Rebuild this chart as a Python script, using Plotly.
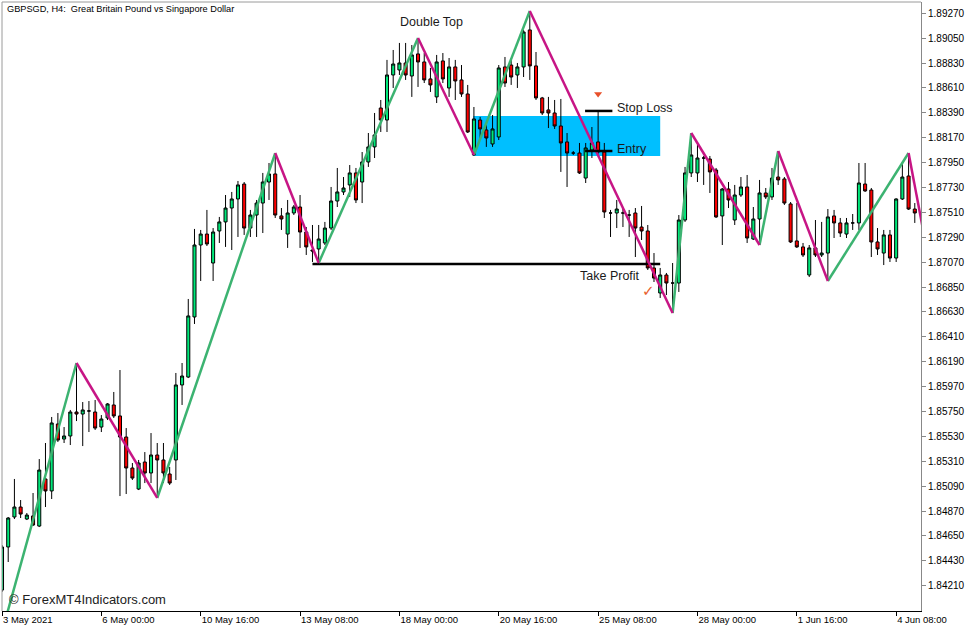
import plotly.graph_objects as go

# ---------------- data ----------------
x_labels = ["3 May 2021", "6 May 00:00", "10 May 16:00", "13 May 08:00", "18 May 00:00",
            "20 May 16:00", "25 May 08:00", "28 May 00:00", "1 Jun 16:00", "4 Jun 08:00"]
x_label_bars = [0, 16, 32, 48, 64, 80, 96, 112, 128, 144]

price_labels = ["1.84210", "1.84430", "1.84650", "1.84870", "1.85090", "1.85310", "1.85530",
                "1.85750", "1.85970", "1.86190", "1.86410", "1.86630", "1.86850", "1.87070",
                "1.87290", "1.87510", "1.87730", "1.87950", "1.88170", "1.88390", "1.88610",
                "1.88830", "1.89050", "1.89270"]

open_ = [
    1.84172, 1.84553, 1.84818, 1.84906, 1.84800, 1.84827, 1.84738, 1.85154, 1.85048, 1.85640,
    1.85507, 1.85534, 1.85746, 1.85728, 1.85755, 1.85746, 1.85613, 1.85693, 1.85808, 1.85711,
    1.85525, 1.85251, 1.85065, 1.85304, 1.85207, 1.85366, 1.85322, 1.85198, 1.85322, 1.85985,
    1.86055, 1.86586, 1.87222, 1.87319, 1.87063, 1.87346, 1.87426, 1.87549, 1.87629, 1.87761,
    1.87372, 1.87487, 1.87593, 1.87779, 1.87850, 1.87479, 1.87319, 1.87505, 1.87558, 1.87337,
    1.87178, 1.87187, 1.87240, 1.87372, 1.87611, 1.87691, 1.87753, 1.87859, 1.87779, 1.87956,
    1.88089, 1.88433, 1.88327, 1.88725, 1.88769, 1.88831, 1.88716, 1.88911, 1.88840, 1.88690,
    1.88531, 1.88849, 1.88610, 1.88796, 1.88681, 1.88557, 1.88018, 1.88327, 1.88239, 1.88115,
    1.88177, 1.88796, 1.88813, 1.88725, 1.88796, 1.89123, 1.88805, 1.88522, 1.88416, 1.88389,
    1.88274, 1.88133, 1.88035, 1.88035, 1.87814, 1.88062, 1.88133, 1.88044, 1.87505, 1.87505,
    1.87505, 1.87487, 1.87505, 1.87381, 1.87346, 1.87019, 1.86798, 1.86957, 1.86886, 1.86886,
    1.87443, 1.87859, 1.87859, 1.87991, 1.87982, 1.87885, 1.87479, 1.87717, 1.87443, 1.87664,
    1.87735, 1.87275, 1.87452, 1.87682, 1.87647, 1.87823, 1.87806, 1.87585, 1.87258, 1.87205,
    1.86957, 1.87196, 1.87134, 1.87151, 1.87479, 1.87417, 1.87319, 1.87417, 1.87417, 1.87761,
    1.87708, 1.87249, 1.87151, 1.87311, 1.87107, 1.87629, 1.87832, 1.87540,
]
high = [
    1.84570, 1.84818, 1.85154, 1.84968, 1.84853, 1.85030, 1.85330, 1.85472, 1.85702, 1.85737,
    1.85613, 1.85764, 1.86179, 1.85834, 1.85843, 1.85852, 1.85719, 1.85825, 1.85923, 1.86117,
    1.85604, 1.85295, 1.85322, 1.85392, 1.85560, 1.85472, 1.85472, 1.85260, 1.86091, 1.86179,
    1.86745, 1.87364, 1.87355, 1.87532, 1.87372, 1.87470, 1.87664, 1.87691, 1.87788, 1.87779,
    1.87532, 1.87620, 1.87859, 1.87947, 1.88035, 1.87549, 1.87620, 1.87576, 1.87664, 1.87381,
    1.87399, 1.87399, 1.87426, 1.87735, 1.87903, 1.87823, 1.87929, 1.87903, 1.88044, 1.88212,
    1.88389, 1.88504, 1.88858, 1.88946, 1.89008, 1.89008, 1.88990, 1.89052, 1.88919, 1.88787,
    1.88902, 1.88919, 1.88875, 1.88858, 1.88813, 1.88637, 1.88442, 1.88354, 1.88301, 1.88371,
    1.88813, 1.88884, 1.88875, 1.88831, 1.89123, 1.89291, 1.88928, 1.88531, 1.88531, 1.88504,
    1.88513, 1.88212, 1.88053, 1.88124, 1.88124, 1.88265, 1.88398, 1.88124, 1.87532, 1.87620,
    1.87549, 1.87532, 1.87549, 1.87567, 1.87399, 1.87151, 1.87019, 1.86975, 1.87063, 1.87487,
    1.87912, 1.88212, 1.88106, 1.88009, 1.88009, 1.87903, 1.87726, 1.87779, 1.87753, 1.87823,
    1.87841, 1.87558, 1.87797, 1.87726, 1.87903, 1.88053, 1.87823, 1.87602, 1.87593, 1.87240,
    1.87222, 1.87443, 1.87426, 1.87540, 1.87532, 1.87461, 1.87461, 1.87496, 1.87947, 1.87947,
    1.87726, 1.87372, 1.87355, 1.87355, 1.87635, 1.87956, 1.88035, 1.87593,
]
low = [
    1.84155, 1.84420, 1.84800, 1.84809, 1.84791, 1.84738, 1.84729, 1.84906, 1.84977, 1.85481,
    1.85472, 1.85454, 1.85666, 1.85445, 1.85569, 1.85587, 1.85569, 1.85675, 1.85693, 1.85003,
    1.85021, 1.85145, 1.85056, 1.85118, 1.85118, 1.84986, 1.85118, 1.85101, 1.85145, 1.85808,
    1.86046, 1.86524, 1.86904, 1.87213, 1.86904, 1.87240, 1.87205, 1.87178, 1.87293, 1.87311,
    1.87293, 1.87293, 1.87328, 1.87620, 1.87461, 1.87355, 1.87196, 1.87487, 1.87196, 1.87134,
    1.87072, 1.87063, 1.87222, 1.87355, 1.87558, 1.87664, 1.87647, 1.87593, 1.87593, 1.87912,
    1.87991, 1.88221, 1.88221, 1.88610, 1.88725, 1.88681, 1.88531, 1.88619, 1.88654, 1.88575,
    1.88477, 1.88654, 1.88531, 1.88504, 1.88531, 1.88212, 1.88010, 1.88168, 1.88089, 1.88089,
    1.88150, 1.88619, 1.88637, 1.88610, 1.88707, 1.88681, 1.88504, 1.88371, 1.88256, 1.88248,
    1.87868, 1.87735, 1.88018, 1.87850, 1.87770, 1.87991, 1.88018, 1.87461, 1.87293, 1.87372,
    1.87381, 1.87293, 1.87116, 1.87266, 1.87001, 1.86895, 1.86754, 1.86780, 1.86621, 1.86807,
    1.87426, 1.87823, 1.87779, 1.87753, 1.87682, 1.87461, 1.87222, 1.87549, 1.87399, 1.87647,
    1.87240, 1.87266, 1.87222, 1.87629, 1.87620, 1.87753, 1.87576, 1.87240, 1.87196, 1.87116,
    1.86939, 1.87116, 1.87116, 1.86904, 1.87284, 1.87293, 1.87284, 1.87355, 1.87355, 1.87691,
    1.87116, 1.87134, 1.87045, 1.87072, 1.87072, 1.87620, 1.87532, 1.87417,
]
close = [
    1.84553, 1.84809, 1.84906, 1.84844, 1.84835, 1.84747, 1.85233, 1.85048, 1.85649, 1.85498,
    1.85534, 1.85746, 1.85728, 1.85764, 1.85755, 1.85604, 1.85684, 1.85817, 1.85711, 1.85525,
    1.85251, 1.85162, 1.85295, 1.85207, 1.85366, 1.85322, 1.85207, 1.85118, 1.85985, 1.86064,
    1.86595, 1.87222, 1.87319, 1.87231, 1.87337, 1.87426, 1.87549, 1.87629, 1.87753, 1.87372,
    1.87487, 1.87593, 1.87779, 1.87850, 1.87487, 1.87452, 1.87505, 1.87558, 1.87337, 1.87205,
    1.87169, 1.87275, 1.87372, 1.87611, 1.87691, 1.87726, 1.87859, 1.87620, 1.87956, 1.88089,
    1.88195, 1.88327, 1.88725, 1.88822, 1.88831, 1.88725, 1.88902, 1.88840, 1.88681, 1.88637,
    1.88840, 1.88690, 1.88796, 1.88672, 1.88557, 1.88221, 1.88336, 1.88248, 1.88168, 1.88248,
    1.88787, 1.88654, 1.88707, 1.88796, 1.89105, 1.88805, 1.88522, 1.88389, 1.88389, 1.88274,
    1.88124, 1.88035, 1.88035, 1.87859, 1.88080, 1.88124, 1.88044, 1.87514, 1.87505, 1.87540,
    1.87505, 1.87487, 1.87372, 1.87346, 1.87019, 1.86930, 1.86957, 1.86886, 1.86886, 1.87443,
    1.87859, 1.88018, 1.87991, 1.87991, 1.87868, 1.87470, 1.87717, 1.87620, 1.87664, 1.87735,
    1.87284, 1.87452, 1.87682, 1.87647, 1.87814, 1.87797, 1.87593, 1.87249, 1.87205, 1.87134,
    1.87196, 1.87134, 1.87151, 1.87470, 1.87417, 1.87328, 1.87417, 1.87417, 1.87770, 1.87700,
    1.87249, 1.87187, 1.87311, 1.87107, 1.87629, 1.87823, 1.87540, 1.87505,
]

# ZigZag swing points (bar index, price)
zz_bar = [0, 12, 25, 44, 51, 67, 76, 85, 108, 111, 122, 125, 133, 146, 148.6]
zz_price = [1.83801, 1.86179, 1.84986, 1.88035, 1.87063, 1.89052, 1.88018, 1.89291,
            1.86621, 1.88212, 1.87222, 1.88053, 1.86904, 1.88035, 1.87280]

# trade levels
zone_bars = [75.9, 106.0]
zone_prices = [1.88009, 1.88363]
stop_loss = 1.88407
entry = 1.88053
take_profit = 1.87054
sl_entry_bars = [93.9, 98.3]
tp_bars = [50.0, 106.0]
signal_bar, signal_price = 96.0, 1.88557

# ---------------- figure ----------------
bars = list(range(len(open_)))
BULL = "#00E87A"
BEAR = "#FF0000"
UP_LINE = "#3CB371"
DN_LINE = "#C71585"
FONT = "Liberation Sans, Arial, sans-serif"

fig = go.Figure()

fig.add_shape(type="rect", xref="x", yref="y", layer="below",
              x0=zone_bars[0], x1=zone_bars[1], y0=zone_prices[0], y1=zone_prices[1],
              fillcolor="#00BFFF", line=dict(width=0))

fig.add_trace(go.Candlestick(
    x=bars, open=open_, high=high, low=low, close=close,
    increasing=dict(fillcolor=BULL, line=dict(color="#000000", width=1)),
    decreasing=dict(fillcolor=BEAR, line=dict(color="#000000", width=1)),
    whiskerwidth=0, hoverinfo="skip", showlegend=False))

# take profit line
fig.add_trace(go.Scatter(x=tp_bars, y=[take_profit, take_profit], mode="lines",
                         line=dict(color="#000000", width=2.5), hoverinfo="skip"))

# zigzag segments
up_x, up_y, dn_x, dn_y = [], [], [], []
for k in range(len(zz_bar) - 1):
    seg_x = [zz_bar[k], zz_bar[k + 1], None]
    seg_y = [zz_price[k], zz_price[k + 1], None]
    if zz_price[k + 1] > zz_price[k]:
        up_x += seg_x; up_y += seg_y
    else:
        dn_x += seg_x; dn_y += seg_y
fig.add_trace(go.Scatter(x=up_x, y=up_y, mode="lines", line=dict(color=UP_LINE, width=2.5),
                         hoverinfo="skip"))
fig.add_trace(go.Scatter(x=dn_x, y=dn_y, mode="lines", line=dict(color=DN_LINE, width=2.5),
                         hoverinfo="skip"))

# stop loss / entry lines
for lvl in (stop_loss, entry):
    fig.add_trace(go.Scatter(x=sl_entry_bars, y=[lvl, lvl], mode="lines",
                             line=dict(color="#000000", width=2.5), hoverinfo="skip"))

# signal arrow
fig.add_trace(go.Scatter(x=[signal_bar], y=[signal_price], mode="markers",
                         marker=dict(symbol="triangle-down", size=7, color="#E8502A"),
                         hoverinfo="skip"))

txt = dict(family=FONT, size=12.5, color="#1a1a1a")
fig.add_annotation(x=69.1, y=1.89193, xref="x", yref="y", text="Double Top", showarrow=False,
                   xanchor="center", yanchor="middle", font=txt)
fig.add_annotation(x=98.8, y=1.88433, xref="x", yref="y", text="Stop Loss", showarrow=False,
                   xanchor="left", yanchor="middle", font=txt)
fig.add_annotation(x=98.8, y=1.88075, xref="x", yref="y", text="Entry", showarrow=False,
                   xanchor="left", yanchor="middle", font=txt)
fig.add_annotation(x=103.1, y=1.86948, xref="x", yref="y", text="Take Profit", showarrow=False,
                   xanchor="right", yanchor="middle", font=txt)
fig.add_annotation(x=104.05, y=1.86816, xref="x", yref="y", text="✓", showarrow=False,
                   xanchor="center", yanchor="middle",
                   font=dict(family="DejaVu Sans", size=15, color="#E8602C"))

fig.add_annotation(x=0.003, y=0.9893, xref="paper", yref="paper",
                   text="GBPSGD, H4:  Great Britain Pound vs Singapore Dollar", showarrow=False,
                   xanchor="left", yanchor="middle", font=dict(family=FONT, size=9.2, color="#000000"))
fig.add_annotation(x=0.005, y=0.0181, xref="paper", yref="paper",
                   text="© ForexMT4Indicators.com", showarrow=False,
                   xanchor="left", yanchor="middle", font=dict(family=FONT, size=13, color="#222222"))

# left / top frame lines
fig.add_shape(type="line", xref="paper", yref="paper", x0=0, x1=0, y0=0, y1=1,
              line=dict(color="#9a9a9a", width=1))
fig.add_shape(type="line", xref="paper", yref="paper", x0=0, x1=1, y0=1, y1=1,
              line=dict(color="#9a9a9a", width=1))

fig.update_layout(
    width=977, height=629,
    margin=dict(l=2, r=56, t=2, b=18),
    paper_bgcolor="#ffffff", plot_bgcolor="#ffffff",
    showlegend=False, boxgap=0.3,
    xaxis=dict(range=[0, 148], tickmode="array", tickvals=x_label_bars, ticktext=x_labels,
               ticks="outside", ticklen=4, tickcolor="#000000", ticklabelposition="outside right",
               showgrid=False, zeroline=False, showline=True, linecolor="#000000", linewidth=1,
               tickfont=dict(family=FONT, size=9.5, color="#000000"),
               rangeslider=dict(visible=False), fixedrange=True),
    yaxis=dict(range=[1.83987, 1.89370], side="right", tickmode="array",
               tickvals=[float(s) for s in price_labels], ticktext=price_labels,
               ticks="outside", ticklen=4, tickcolor="#888888",
               showgrid=False, zeroline=False, showline=True, linecolor="#888888", linewidth=1,
               tickfont=dict(family=FONT, size=10, color="#000000"), fixedrange=True),
)

fig.write_html("out.html", config={"displayModeBar": False},
               post_script="document.body.style.margin='0';document.body.style.padding='0';")
